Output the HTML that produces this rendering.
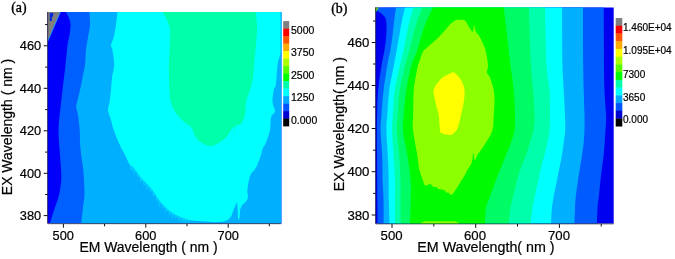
<!DOCTYPE html>
<html lang="en"><head><meta charset="utf-8"><title>EEM contour plots</title>
<style>
html,body{margin:0;padding:0;background:#fff;}
body{width:675px;height:259px;overflow:hidden;}
svg{display:block;}
text{fill:#000;stroke:#000;stroke-width:0.2px;}
</style></head>
<body>
<svg width="675" height="259" viewBox="0 0 675 259">
<rect width="675" height="259" fill="#fff"/>
<rect x="47.5" y="12" width="233.8" height="211.3" fill="#0000fa"/>
<path fill="#0060ff" d="M66 12C66.4 12.8 67.9 15.3 68.6 17C69.3 18.7 69.9 20.3 70.2 22C70.5 23.7 70.6 25.2 70.5 27C70.4 28.8 70.1 30.8 69.8 33C69.5 35.2 68.9 38.0 68.5 40C68.1 42.0 68.0 40.8 67.5 45C67.0 49.2 66.3 57.5 65.5 65C64.7 72.5 63.3 82.9 62.5 90C61.7 97.1 61.2 100.8 60.5 107.5C59.8 114.2 58.6 122.1 58.5 130C58.4 137.9 59.5 148.0 60 155C60.5 162.0 61.0 167.4 61.2 172C61.4 176.6 61.4 178.7 61 182.5C60.6 186.3 60.0 190.8 59 195C58.0 199.2 56.1 204.2 55 207.5C53.9 210.8 53.3 212.4 52.5 215C51.7 217.6 50.4 221.9 50 223.3L281.3 223.3V12Z"/>
<path fill="#00b0ff" d="M89.5 12C89.6 14.2 90.2 20.8 90 25C89.8 29.2 88.7 33.3 88 37.5C87.3 41.7 86.5 45.4 86 50C85.5 54.6 85.6 60.4 85 65C84.4 69.6 83.3 73.3 82.5 77.5C81.7 81.7 80.9 85.8 80 90C79.1 94.2 77.6 99.6 77 102.5C76.4 105.4 76.0 105.4 76.2 107.5C76.4 109.6 77.4 111.2 78 115C78.6 118.8 79.4 125.4 79.7 130C80.0 134.6 79.8 138.3 80 142.5C80.2 146.7 80.7 150.8 81.2 155C81.7 159.2 82.5 163.3 83 167.5C83.5 171.7 83.8 175.4 84 180C84.2 184.6 84.7 190.4 84.5 195C84.3 199.6 83.5 202.8 83 207.5C82.5 212.2 81.5 220.7 81.2 223.3L281.3 223.3V12Z"/>
<path fill="#00ffff" d="M117.5 12C117.2 14.2 116.6 20.8 116 25C115.4 29.2 114.5 34.2 113.7 37.5C112.9 40.8 111.2 42.9 111 45C110.8 47.1 112.0 46.7 112.5 50C113.0 53.3 114.3 60.4 114.2 65C114.1 69.6 112.5 73.3 112 77.5C111.5 81.7 111.4 85.8 111 90C110.6 94.2 110.0 99.2 109.5 102.5C109.0 105.8 107.8 107.1 108 110C108.2 112.9 110.0 116.7 111 120C112.0 123.3 112.4 126.2 113.7 130C115.0 133.8 116.8 138.3 118.7 142.5C120.6 146.7 123.1 151.2 125 155C126.9 158.8 128.6 162.9 130 165C131.4 167.1 131.9 165.4 133.7 167.5C135.5 169.6 137.9 173.8 141 177.5C144.1 181.2 149.2 185.8 152.5 190C155.8 194.2 157.7 198.7 161 202.5C164.3 206.3 168.5 210.3 172.5 213C176.5 215.7 181.7 217.2 185 218.5C188.3 219.8 189.2 220.0 192.5 220.5C195.8 221.0 201.2 221.2 205 221.5C208.8 221.8 212.1 222.0 215 222C217.9 222.0 220.6 221.9 222.7 221.6C224.8 221.3 225.9 221.0 227.3 220.1C228.7 219.2 230.2 217.9 231.2 216.2C232.2 214.5 232.9 211.5 233.5 210C234.1 208.5 234.4 208.1 234.8 207C235.2 205.9 235.8 204.0 236.2 203.4C236.6 202.8 236.9 202.3 237.2 203.4C237.4 204.5 237.5 207.5 237.7 210C237.9 212.5 237.9 217.2 238.2 218.6C238.5 220.0 239.2 219.8 239.5 218.4C239.8 217.0 239.8 212.2 240.2 210C240.6 207.8 241.2 206.7 242 205.4C242.8 204.1 244.1 203.6 245.1 202.3C246.1 201.0 247.4 199.8 247.8 197.7C248.2 195.6 247.2 192.9 247.4 190C247.6 187.1 248.4 182.7 249 180C249.6 177.3 249.8 176.1 251 174C252.2 171.9 254.3 170.7 256 167.5C257.7 164.3 259.9 158.1 261 155C262.1 151.9 261.7 151.1 262.5 149C263.3 146.9 264.8 145.7 266 142.5C267.2 139.3 269.2 134.2 270 130C270.8 125.8 270.2 120.7 271 117.5C271.8 114.3 274.8 113.5 275 111C275.2 108.5 272.7 106.0 272.5 102.5C272.3 99.0 273.1 93.1 273.7 90C274.3 86.9 275.4 88.2 276 84C276.6 79.8 276.8 69.8 277.5 65C278.2 60.2 279.4 57.5 280 55C280.6 52.5 281.1 57.2 281.3 50C281.5 42.8 281.3 18.3 281.3 12Z"/>
<path fill="#00ffaa" d="M162.5 12C163.2 13.3 165.8 17.0 167 20C168.2 23.0 169.6 25.0 170 30C170.4 35.0 169.7 44.2 169.5 50C169.3 55.8 168.8 58.3 168.8 65C168.8 71.7 169.1 83.8 169.5 90C169.9 96.2 170.2 99.2 171 102.5C171.8 105.8 172.9 107.9 174 110C175.1 112.1 175.8 113.0 177.5 115C179.2 117.0 181.8 120.0 184 122C186.2 124.0 189.0 124.4 191 127C193.0 129.6 194.2 134.8 196 137.5C197.8 140.2 199.7 141.6 202 143C204.3 144.4 207.3 145.9 210 146C212.7 146.1 215.3 144.9 218 143.5C220.7 142.1 223.8 139.8 226 137.5C228.2 135.2 229.8 131.8 231 130C232.2 128.2 233.0 126.3 233.5 127C234.0 127.7 233.8 134.0 234 134C234.2 134.0 234.4 128.5 235 127C235.6 125.5 236.5 125.5 237.5 125C238.5 124.5 239.8 125.7 241 124C242.2 122.3 244.2 118.6 245 115C245.8 111.4 245.2 106.7 246 102.5C246.8 98.3 248.8 94.2 250 90C251.2 85.8 252.3 81.7 253 77.5C253.7 73.3 253.6 69.6 254 65C254.4 60.4 255.0 55.8 255.5 50C256.0 44.2 256.9 36.3 257 30C257.1 23.7 256.2 15.0 256 12Z"/>
<rect x="280.5" y="12" width="0.8" height="45" fill="#00b0ff"/>
<path d="M131.0 164.2V170.3M132.6 165.3V169.8M134.2 166.7V173.6M135.8 168.9V172.2M137.4 171.1V176.4M139.0 173.3V177.4M140.6 175.5V181.9M142.2 177.3V181.0M143.8 179.0V185.1M145.4 180.8V185.3M147.0 182.5V189.4M148.6 184.3V187.6M150.2 186.0V191.3M151.8 187.7V191.8M153.4 189.8V196.2M155.0 192.2V195.9M156.6 194.5V200.6M158.2 196.9V201.4M159.8 199.2V206.1M161.4 201.4V204.7M163.0 202.8V208.1M164.6 204.3V208.4M166.2 205.7V212.1M167.8 207.2V210.9M169.4 208.7V214.8M171.0 210.1V214.6M172.6 211.5V218.4M174.2 212.2V215.5M175.8 213.0V218.3M177.4 213.7V217.8M179.0 214.4V220.8M180.6 215.1V218.8M182.2 215.8V221.9M183.8 216.5V221.0M185.4 217.1V222.6M187.0 217.5V220.8M188.6 218.0V222.6" stroke="#00ffff" stroke-opacity="0.55" stroke-width="0.9" fill="none"/>
<polygon fill="#808080" points="47.5,12 60,12 47.5,41"/>
<polyline fill="none" stroke="#30c0e8" stroke-width="0.8" points="60.3,12 47.6,41.5"/>
<polygon fill="#0028e0" points="49.8,13 53.4,13 53,16 51.6,18 52,21 49.8,21"/>
<rect x="375.5" y="7.5" width="238.20000000000005" height="216.0" fill="#0000f0"/>
<path fill="#005cff" d="M375.5 7.5C375.6 7.9 375.1 8.9 376.2 10C377.3 11.1 380.4 12.3 382 14C383.6 15.7 385.3 16.5 386 20C386.7 23.5 386.6 30.0 386.3 35C386.1 40.0 385.3 45.0 384.5 50C383.7 55.0 382.7 58.3 381.6 65C380.6 71.7 378.9 81.7 378.2 90C377.5 98.3 377.4 108.3 377.2 115C377.0 121.7 376.9 123.3 376.9 130C376.9 136.7 376.9 146.7 377 155C377.1 163.3 377.1 171.7 377.2 180C377.3 188.3 377.3 197.8 377.4 205C377.5 212.2 377.6 220.4 377.6 223.5L597 223.5C597.1 220.8 597.2 212.2 597.5 207.5C597.8 202.8 598.5 199.6 599 195C599.5 190.4 600.0 184.6 600.5 180C601.0 175.4 601.5 171.7 602 167.5C602.5 163.3 603.1 161.2 603.7 155C604.3 148.8 605.1 136.7 605.5 130C605.9 123.3 606.2 121.7 606 115C605.8 108.3 604.8 98.3 604.5 90C604.2 81.7 604.1 78.8 604 65C603.9 51.2 603.8 17.1 603.7 7.5Z"/>
<path fill="#00b0ff" d="M396 7.5C395.7 9.6 394.9 15.4 394.3 20C393.7 24.6 393.2 30.0 392.6 35C392.0 40.0 391.3 45.0 390.4 50C389.5 55.0 388.5 58.3 387.4 65C386.3 71.7 384.6 81.7 383.6 90C382.6 98.3 382.0 108.3 381.5 115C381.0 121.7 380.5 123.3 380.6 130C380.7 136.7 381.9 146.7 382.2 155C382.5 163.3 382.4 173.3 382.6 180C382.8 186.7 383.2 190.0 383.4 195C383.6 200.0 383.6 205.2 383.6 210C383.6 214.8 383.6 221.2 383.6 223.5L574.5 223.5C574.6 220.8 574.8 212.2 575 207.5C575.2 202.8 575.5 199.6 576 195C576.5 190.4 577.3 184.6 578 180C578.7 175.4 579.3 171.7 580 167.5C580.7 163.3 581.4 159.2 582 155C582.6 150.8 583.3 146.7 583.7 142.5C584.1 138.3 584.4 134.6 584.5 130C584.6 125.4 584.6 121.7 584.5 115C584.4 108.3 583.9 98.3 583.7 90C583.5 81.7 583.3 78.8 583.2 65C583.1 51.2 583.0 17.1 583 7.5Z"/>
<path fill="#00ffff" d="M404.9 7.5C404.2 10.8 402.1 19.9 400.8 27C399.5 34.1 397.9 43.7 396.8 50C395.7 56.3 395.2 58.3 394 65C392.8 71.7 390.4 81.7 389.3 90C388.2 98.3 387.8 108.3 387.3 115C386.8 121.7 386.3 123.3 386.4 130C386.5 136.7 387.4 146.7 387.8 155C388.2 163.3 388.6 173.3 388.7 180C388.8 186.7 388.6 187.8 388.7 195C388.8 202.2 389.4 218.8 389.5 223.5L551 223.5C551.2 220.8 551.5 212.2 552 207.5C552.5 202.8 553.2 199.6 554 195C554.8 190.4 556.1 184.6 557 180C557.9 175.4 558.7 171.7 559.5 167.5C560.3 163.3 561.3 159.2 562 155C562.7 150.8 563.2 146.7 563.7 142.5C564.2 138.3 565.0 134.6 565.2 130C565.4 125.4 565.2 121.7 565 115C564.8 108.3 564.1 98.3 563.7 90C563.3 81.7 562.8 78.8 562.5 65C562.2 51.2 562.1 17.1 562 7.5Z"/>
<path fill="#00ffaa" d="M413.2 7.5C412.4 10.8 409.8 19.9 408.2 27C406.6 34.1 405.1 43.7 403.7 50C402.3 56.3 401.5 58.3 400 65C398.5 71.7 396.0 81.7 394.8 90C393.6 98.3 393.3 108.3 392.8 115C392.3 121.7 391.9 123.3 392 130C392.1 136.7 393.1 146.7 393.6 155C394.1 163.3 394.8 173.3 395 180C395.2 186.7 395.0 187.8 395 195C395.0 202.2 395.0 218.8 395 223.5L530.5 223.5C530.8 220.8 531.8 212.2 532.5 207.5C533.2 202.8 534.0 199.6 535 195C536.0 190.4 537.5 184.6 538.5 180C539.5 175.4 540.0 171.7 541 167.5C542.0 163.3 543.4 159.2 544.5 155C545.6 150.8 546.7 146.7 547.5 142.5C548.3 138.3 549.1 134.6 549.5 130C549.9 125.4 550.0 121.7 550 115C550.0 108.3 550.1 98.3 549.5 90C548.9 81.7 547.2 78.8 546.5 65C545.8 51.2 545.2 17.1 545 7.5Z"/>
<path fill="#00fc64" d="M422.4 7.5C421.2 10.8 417.4 19.9 415.3 27C413.2 34.1 411.3 43.7 409.6 50C407.9 56.3 406.9 58.3 405.3 65C403.7 71.7 401.1 81.7 399.8 90C398.6 98.3 398.3 108.3 397.8 115C397.3 121.7 396.6 123.3 396.8 130C397.0 136.7 398.6 146.7 399.2 155C399.8 163.3 400.3 173.3 400.5 180C400.7 186.7 400.6 187.8 400.6 195C400.6 202.2 400.6 218.8 400.6 223.5L508.7 223.5C509.0 220.8 509.7 212.2 510.5 207.5C511.3 202.8 512.4 199.6 513.5 195C514.6 190.4 515.8 184.6 517 180C518.2 175.4 519.5 171.7 521 167.5C522.5 163.3 524.5 159.2 526 155C527.5 150.8 528.8 146.7 530 142.5C531.2 138.3 532.8 134.6 533.5 130C534.2 125.4 534.6 121.7 534.5 115C534.4 108.3 533.6 98.3 533 90C532.4 81.7 531.7 78.8 531 65C530.3 51.2 529.1 17.1 528.7 7.5Z"/>
<path fill="#00fa00" d="M433 7.5C431.5 10.8 426.8 19.9 424.2 27C421.6 34.1 419.5 43.7 417.4 50C415.3 56.3 413.4 58.3 411.5 65C409.6 71.7 407.6 81.7 406.3 90C405.0 98.3 404.4 108.3 403.8 115C403.2 121.7 402.4 123.3 403 130C403.6 136.7 406.0 146.7 407.3 155C408.6 163.3 410.0 173.3 410.6 180C411.2 186.7 410.8 190.4 410.8 195C410.8 199.6 410.7 202.8 410.6 207.5C410.5 212.2 410.1 220.8 410 223.5L485 223.5C485.2 220.8 485.1 212.2 486 207.5C486.9 202.8 488.8 199.6 490.5 195C492.2 190.4 494.2 184.6 496 180C497.8 175.4 499.3 171.7 501 167.5C502.7 163.3 504.3 159.2 506 155C507.7 150.8 509.6 146.7 511 142.5C512.4 138.3 513.8 134.6 514.5 130C515.2 125.4 515.1 121.7 515 115C514.9 108.3 514.5 98.3 513.7 90C513.0 81.7 511.6 74.2 510.5 65C509.4 55.8 508.1 44.6 507 35C505.9 25.4 504.2 12.1 503.7 7.5Z"/>
<path fill="#8cff00" d="M418 65C418.3 64.3 418.8 63.0 419.6 60.7C420.4 58.4 421.8 53.5 423 51.4C424.2 49.3 424.5 49.8 426.6 47.9C428.8 46.0 433.2 42.3 435.9 39.8C438.6 37.3 440.5 35.3 442.8 32.8C445.1 30.3 447.7 26.8 449.8 24.7C451.9 22.6 453.9 21.1 455.6 20.3C457.3 19.5 458.4 19.8 460 19.8C461.6 19.8 463.5 19.3 464.9 20.3C466.3 21.3 467.1 24.0 468.4 25.9C469.7 27.8 471.6 31.3 472.5 31.7C473.4 32.0 473.3 29.2 473.6 28C473.9 26.8 474.0 24.6 474.2 24.7C474.4 24.8 474.7 27.3 475 28.5C475.3 29.7 475.2 30.6 475.8 31.7C476.4 32.8 477.7 33.5 478.8 35.2C479.9 36.9 481.1 39.4 482.3 42.1C483.5 44.8 484.9 47.6 485.8 51.4C486.8 55.2 487.8 61.5 488 65C488.2 68.5 486.7 70.4 487 72.5C487.3 74.6 488.9 74.6 490 77.5C491.1 80.4 492.9 85.8 493.7 90C494.4 94.2 494.5 98.3 494.5 102.5C494.5 106.7 494.0 110.4 493.7 115C493.4 119.6 493.8 125.4 492.5 130C491.2 134.6 488.5 138.3 486 142.5C483.5 146.7 479.3 152.1 477.5 155C475.7 157.9 475.8 160.3 475 160C474.2 159.7 473.5 152.7 473 153C472.5 153.3 472.9 159.2 472 162C471.1 164.8 468.6 167.8 467.4 170C466.2 172.2 465.9 173.2 464.7 175.3C463.5 177.4 461.8 180.0 460.3 182.4C458.8 184.8 457.1 187.7 455.9 189.5C454.7 191.3 453.8 192.6 453 193.5C452.2 194.4 452.1 195.1 451.4 195C450.7 194.9 449.6 193.4 448.7 193C447.8 192.6 446.6 192.9 446 192.5C445.4 192.1 445.7 191.0 445 190.5C444.3 190.0 442.8 189.8 441.6 189.5C440.4 189.2 438.8 189.4 438 189C437.2 188.6 437.6 187.3 437 187C436.4 186.7 435.3 187.1 434.5 186.9C433.7 186.7 432.6 186.5 432 186C431.4 185.5 431.5 184.3 431 184C430.5 183.7 429.9 183.9 429.2 184.2C428.4 184.4 427.2 185.4 426.5 185.5C425.8 185.6 425.4 185.8 424.8 185C424.2 184.2 423.9 183.2 423 180.7C422.1 178.2 420.3 174.3 419.4 170C418.4 165.7 418.4 161.7 417.3 155C416.2 148.3 413.7 136.7 413 130C412.3 123.3 413.1 121.7 413.2 115C413.3 108.3 413.2 96.7 413.7 90C414.2 83.3 415.3 79.2 416 75C416.7 70.8 417.7 66.7 418 65Z"/>
<path fill="#ffff00" d="M452 72.5C450.8 73.1 447.0 74.8 445 76C443.0 77.2 441.9 77.7 440 80C438.1 82.3 434.4 86.2 433.7 90C432.9 93.8 434.7 98.3 435.5 102.5C436.3 106.7 437.9 110.4 438.7 115C439.4 119.6 439.6 127.0 440 130C440.4 133.0 439.3 132.2 441 133C442.7 133.8 447.7 135.2 450 135C452.3 134.8 453.7 133.3 455 132C456.3 130.7 457.0 129.8 458 127C459.0 124.2 460.1 119.1 461 115C461.9 110.9 463.1 106.7 463.7 102.5C464.3 98.3 464.9 93.8 464.5 90C464.1 86.2 462.6 82.8 461 80C459.4 77.2 456.5 74.2 455 73C453.5 71.8 452.5 72.6 452 72.5Z"/>
<polygon fill="#8cff00" points="420,223.5 424,221.2 455,221.2 460,223.5"/>
<polygon fill="#40d040" points="375.5,7.5 379,7.5 375.5,13"/>
<polygon fill="#e08020" points="375.5,7.5 377,7.5 375.5,11"/>
<path d="M47.7 12V223.70000000000002H281.3" fill="none" stroke="#000" stroke-width="0.7" stroke-opacity="0.85"/>
<path d="M63.4 223.9v3.8" stroke="#000" stroke-width="0.95"/>
<path d="M145.8 223.9v3.8" stroke="#000" stroke-width="0.95"/>
<path d="M228.2 223.9v3.8" stroke="#000" stroke-width="0.95"/>
<path d="M104.6 223.9v2.4" stroke="#000" stroke-width="0.95"/>
<path d="M187 223.9v2.4" stroke="#000" stroke-width="0.95"/>
<path d="M269.3 223.9v2.4" stroke="#000" stroke-width="0.95"/>
<path d="M47.5 45.8h-3.8" stroke="#000" stroke-width="0.95"/>
<path d="M47.5 88.3h-3.8" stroke="#000" stroke-width="0.95"/>
<path d="M47.5 130.8h-3.8" stroke="#000" stroke-width="0.95"/>
<path d="M47.5 173.3h-3.8" stroke="#000" stroke-width="0.95"/>
<path d="M47.5 215.6h-3.8" stroke="#000" stroke-width="0.95"/>
<path d="M47.5 24.6h-2.4" stroke="#000" stroke-width="0.95"/>
<path d="M47.5 67.1h-2.4" stroke="#000" stroke-width="0.95"/>
<path d="M47.5 109.6h-2.4" stroke="#000" stroke-width="0.95"/>
<path d="M47.5 152.1h-2.4" stroke="#000" stroke-width="0.95"/>
<path d="M47.5 194.5h-2.4" stroke="#000" stroke-width="0.95"/>
<path d="M375.7 7.5V223.9H613.7" fill="none" stroke="#000" stroke-width="0.7" stroke-opacity="0.85"/>
<path d="M392 224.1v3.8" stroke="#000" stroke-width="0.95"/>
<path d="M475.7 224.1v3.8" stroke="#000" stroke-width="0.95"/>
<path d="M559.4 224.1v3.8" stroke="#000" stroke-width="0.95"/>
<path d="M433.8 224.1v2.4" stroke="#000" stroke-width="0.95"/>
<path d="M517.5 224.1v2.4" stroke="#000" stroke-width="0.95"/>
<path d="M601.2 224.1v2.4" stroke="#000" stroke-width="0.95"/>
<path d="M375.5 42.5h-3.8" stroke="#000" stroke-width="0.95"/>
<path d="M375.5 85.5h-3.8" stroke="#000" stroke-width="0.95"/>
<path d="M375.5 128.5h-3.8" stroke="#000" stroke-width="0.95"/>
<path d="M375.5 171.7h-3.8" stroke="#000" stroke-width="0.95"/>
<path d="M375.5 215h-3.8" stroke="#000" stroke-width="0.95"/>
<path d="M375.5 21h-2.4" stroke="#000" stroke-width="0.95"/>
<path d="M375.5 64h-2.4" stroke="#000" stroke-width="0.95"/>
<path d="M375.5 107h-2.4" stroke="#000" stroke-width="0.95"/>
<path d="M375.5 150.2h-2.4" stroke="#000" stroke-width="0.95"/>
<path d="M375.5 193.4h-2.4" stroke="#000" stroke-width="0.95"/>
<rect x="283.2" y="21.1" width="6" height="7.8" fill="#808080"/>
<rect x="283.2" y="28.6" width="6" height="7.8" fill="#ff0000"/>
<rect x="283.2" y="36.1" width="6" height="7.8" fill="#ff5500"/>
<rect x="283.2" y="43.6" width="6" height="7.8" fill="#ffaa00"/>
<rect x="283.2" y="51.1" width="6" height="7.8" fill="#ffff00"/>
<rect x="283.2" y="58.6" width="6" height="7.8" fill="#aaff00"/>
<rect x="283.2" y="66.1" width="6" height="7.8" fill="#55ff00"/>
<rect x="283.2" y="73.6" width="6" height="7.8" fill="#00ff00"/>
<rect x="283.2" y="81.1" width="6" height="7.8" fill="#00ffaa"/>
<rect x="283.2" y="88.6" width="6" height="7.8" fill="#00ffff"/>
<rect x="283.2" y="96.1" width="6" height="7.8" fill="#00aaff"/>
<rect x="283.2" y="103.6" width="6" height="7.8" fill="#0055ff"/>
<rect x="283.2" y="111.1" width="6" height="7.8" fill="#0000d0"/>
<rect x="283.2" y="118.6" width="6" height="7.8" fill="#000000"/>
<rect x="615.7" y="18" width="6.6" height="8.03" fill="#808080"/>
<rect x="615.7" y="25.73" width="6.6" height="8.03" fill="#ff0000"/>
<rect x="615.7" y="33.46" width="6.6" height="8.03" fill="#ff5500"/>
<rect x="615.7" y="41.19" width="6.6" height="8.03" fill="#ffaa00"/>
<rect x="615.7" y="48.92" width="6.6" height="8.03" fill="#ffff00"/>
<rect x="615.7" y="56.65" width="6.6" height="8.03" fill="#aaff00"/>
<rect x="615.7" y="64.38" width="6.6" height="8.03" fill="#55ff00"/>
<rect x="615.7" y="72.11" width="6.6" height="8.03" fill="#00ff00"/>
<rect x="615.7" y="79.84" width="6.6" height="8.03" fill="#00ffaa"/>
<rect x="615.7" y="87.57" width="6.6" height="8.03" fill="#00ffff"/>
<rect x="615.7" y="95.3" width="6.6" height="8.03" fill="#00aaff"/>
<rect x="615.7" y="103.03" width="6.6" height="8.03" fill="#0055ff"/>
<rect x="615.7" y="110.76" width="6.6" height="8.03" fill="#0000d0"/>
<rect x="615.7" y="118.49" width="6.6" height="8.03" fill="#000000"/>
<text x="11.2" y="12.0" font-size="13.9" text-anchor="start" font-family="'Liberation Serif',serif" style="stroke-width:0.35px">(a)</text>
<text x="331.2" y="12.6" font-size="13.9" text-anchor="start" font-family="'Liberation Serif',serif" style="stroke-width:0.35px">(b)</text>
<text x="41.2" y="50.2" font-size="12.8" text-anchor="end" font-family="'Liberation Sans',sans-serif" >460</text>
<text x="41.2" y="92.7" font-size="12.8" text-anchor="end" font-family="'Liberation Sans',sans-serif" >440</text>
<text x="41.2" y="135.2" font-size="12.8" text-anchor="end" font-family="'Liberation Sans',sans-serif" >420</text>
<text x="41.2" y="177.7" font-size="12.8" text-anchor="end" font-family="'Liberation Sans',sans-serif" >400</text>
<text x="41.2" y="220.0" font-size="12.8" text-anchor="end" font-family="'Liberation Sans',sans-serif" >380</text>
<text x="63.3" y="240" font-size="12.8" text-anchor="middle" font-family="'Liberation Sans',sans-serif" >500</text>
<text x="145.7" y="240" font-size="12.8" text-anchor="middle" font-family="'Liberation Sans',sans-serif" >600</text>
<text x="228.2" y="240" font-size="12.8" text-anchor="middle" font-family="'Liberation Sans',sans-serif" >700</text>
<text x="148.5" y="252" font-size="13.95" text-anchor="middle" font-family="'Liberation Sans',sans-serif" >EM Wavelength ( nm )</text>
<text x="0" y="0" font-size="14" text-anchor="middle" font-family="'Liberation Sans',sans-serif" transform="translate(12.1,127) rotate(-90)">EX Wavelength ( nm )</text>
<text x="369.4" y="47.1" font-size="13.2" text-anchor="end" font-family="'Liberation Sans',sans-serif" >460</text>
<text x="369.4" y="90.10000000000001" font-size="13.2" text-anchor="end" font-family="'Liberation Sans',sans-serif" >440</text>
<text x="369.4" y="133.1" font-size="13.2" text-anchor="end" font-family="'Liberation Sans',sans-serif" >420</text>
<text x="369.4" y="176.3" font-size="13.2" text-anchor="end" font-family="'Liberation Sans',sans-serif" >400</text>
<text x="369.4" y="219.6" font-size="13.2" text-anchor="end" font-family="'Liberation Sans',sans-serif" >380</text>
<text x="391.6" y="240.4" font-size="13.2" text-anchor="middle" font-family="'Liberation Sans',sans-serif" >500</text>
<text x="475.0" y="240.4" font-size="13.2" text-anchor="middle" font-family="'Liberation Sans',sans-serif" >600</text>
<text x="559.0" y="240.4" font-size="13.2" text-anchor="middle" font-family="'Liberation Sans',sans-serif" >700</text>
<text x="417.3" y="251.6" font-size="14.25" text-anchor="start" font-family="'Liberation Sans',sans-serif" >EM Wavelength( nm )</text>
<text x="0" y="0" font-size="14.2" text-anchor="start" font-family="'Liberation Sans',sans-serif" transform="translate(344.1,191.3) rotate(-90)">EX Wavelength( nm )</text>
<text x="291" y="33.7" font-size="10.5" text-anchor="start" font-family="'Liberation Sans',sans-serif" >5000</text>
<text x="291" y="56.2" font-size="10.5" text-anchor="start" font-family="'Liberation Sans',sans-serif" >3750</text>
<text x="291" y="78.7" font-size="10.5" text-anchor="start" font-family="'Liberation Sans',sans-serif" >2500</text>
<text x="291" y="101.2" font-size="10.5" text-anchor="start" font-family="'Liberation Sans',sans-serif" >1250</text>
<text x="291" y="124.0" font-size="10.5" text-anchor="start" font-family="'Liberation Sans',sans-serif" >0.000</text>
<text x="623.0" y="30.6" font-size="10" text-anchor="start" font-family="'Liberation Sans',sans-serif" >1.460E+04</text>
<text x="623.0" y="54.1" font-size="10" text-anchor="start" font-family="'Liberation Sans',sans-serif" >1.095E+04</text>
<text x="623.0" y="77.6" font-size="10" text-anchor="start" font-family="'Liberation Sans',sans-serif" >7300</text>
<text x="623.0" y="100.6" font-size="10" text-anchor="start" font-family="'Liberation Sans',sans-serif" >3650</text>
<text x="623.0" y="123.19999999999999" font-size="10" text-anchor="start" font-family="'Liberation Sans',sans-serif" >0.000</text>
</svg>
</body></html>
